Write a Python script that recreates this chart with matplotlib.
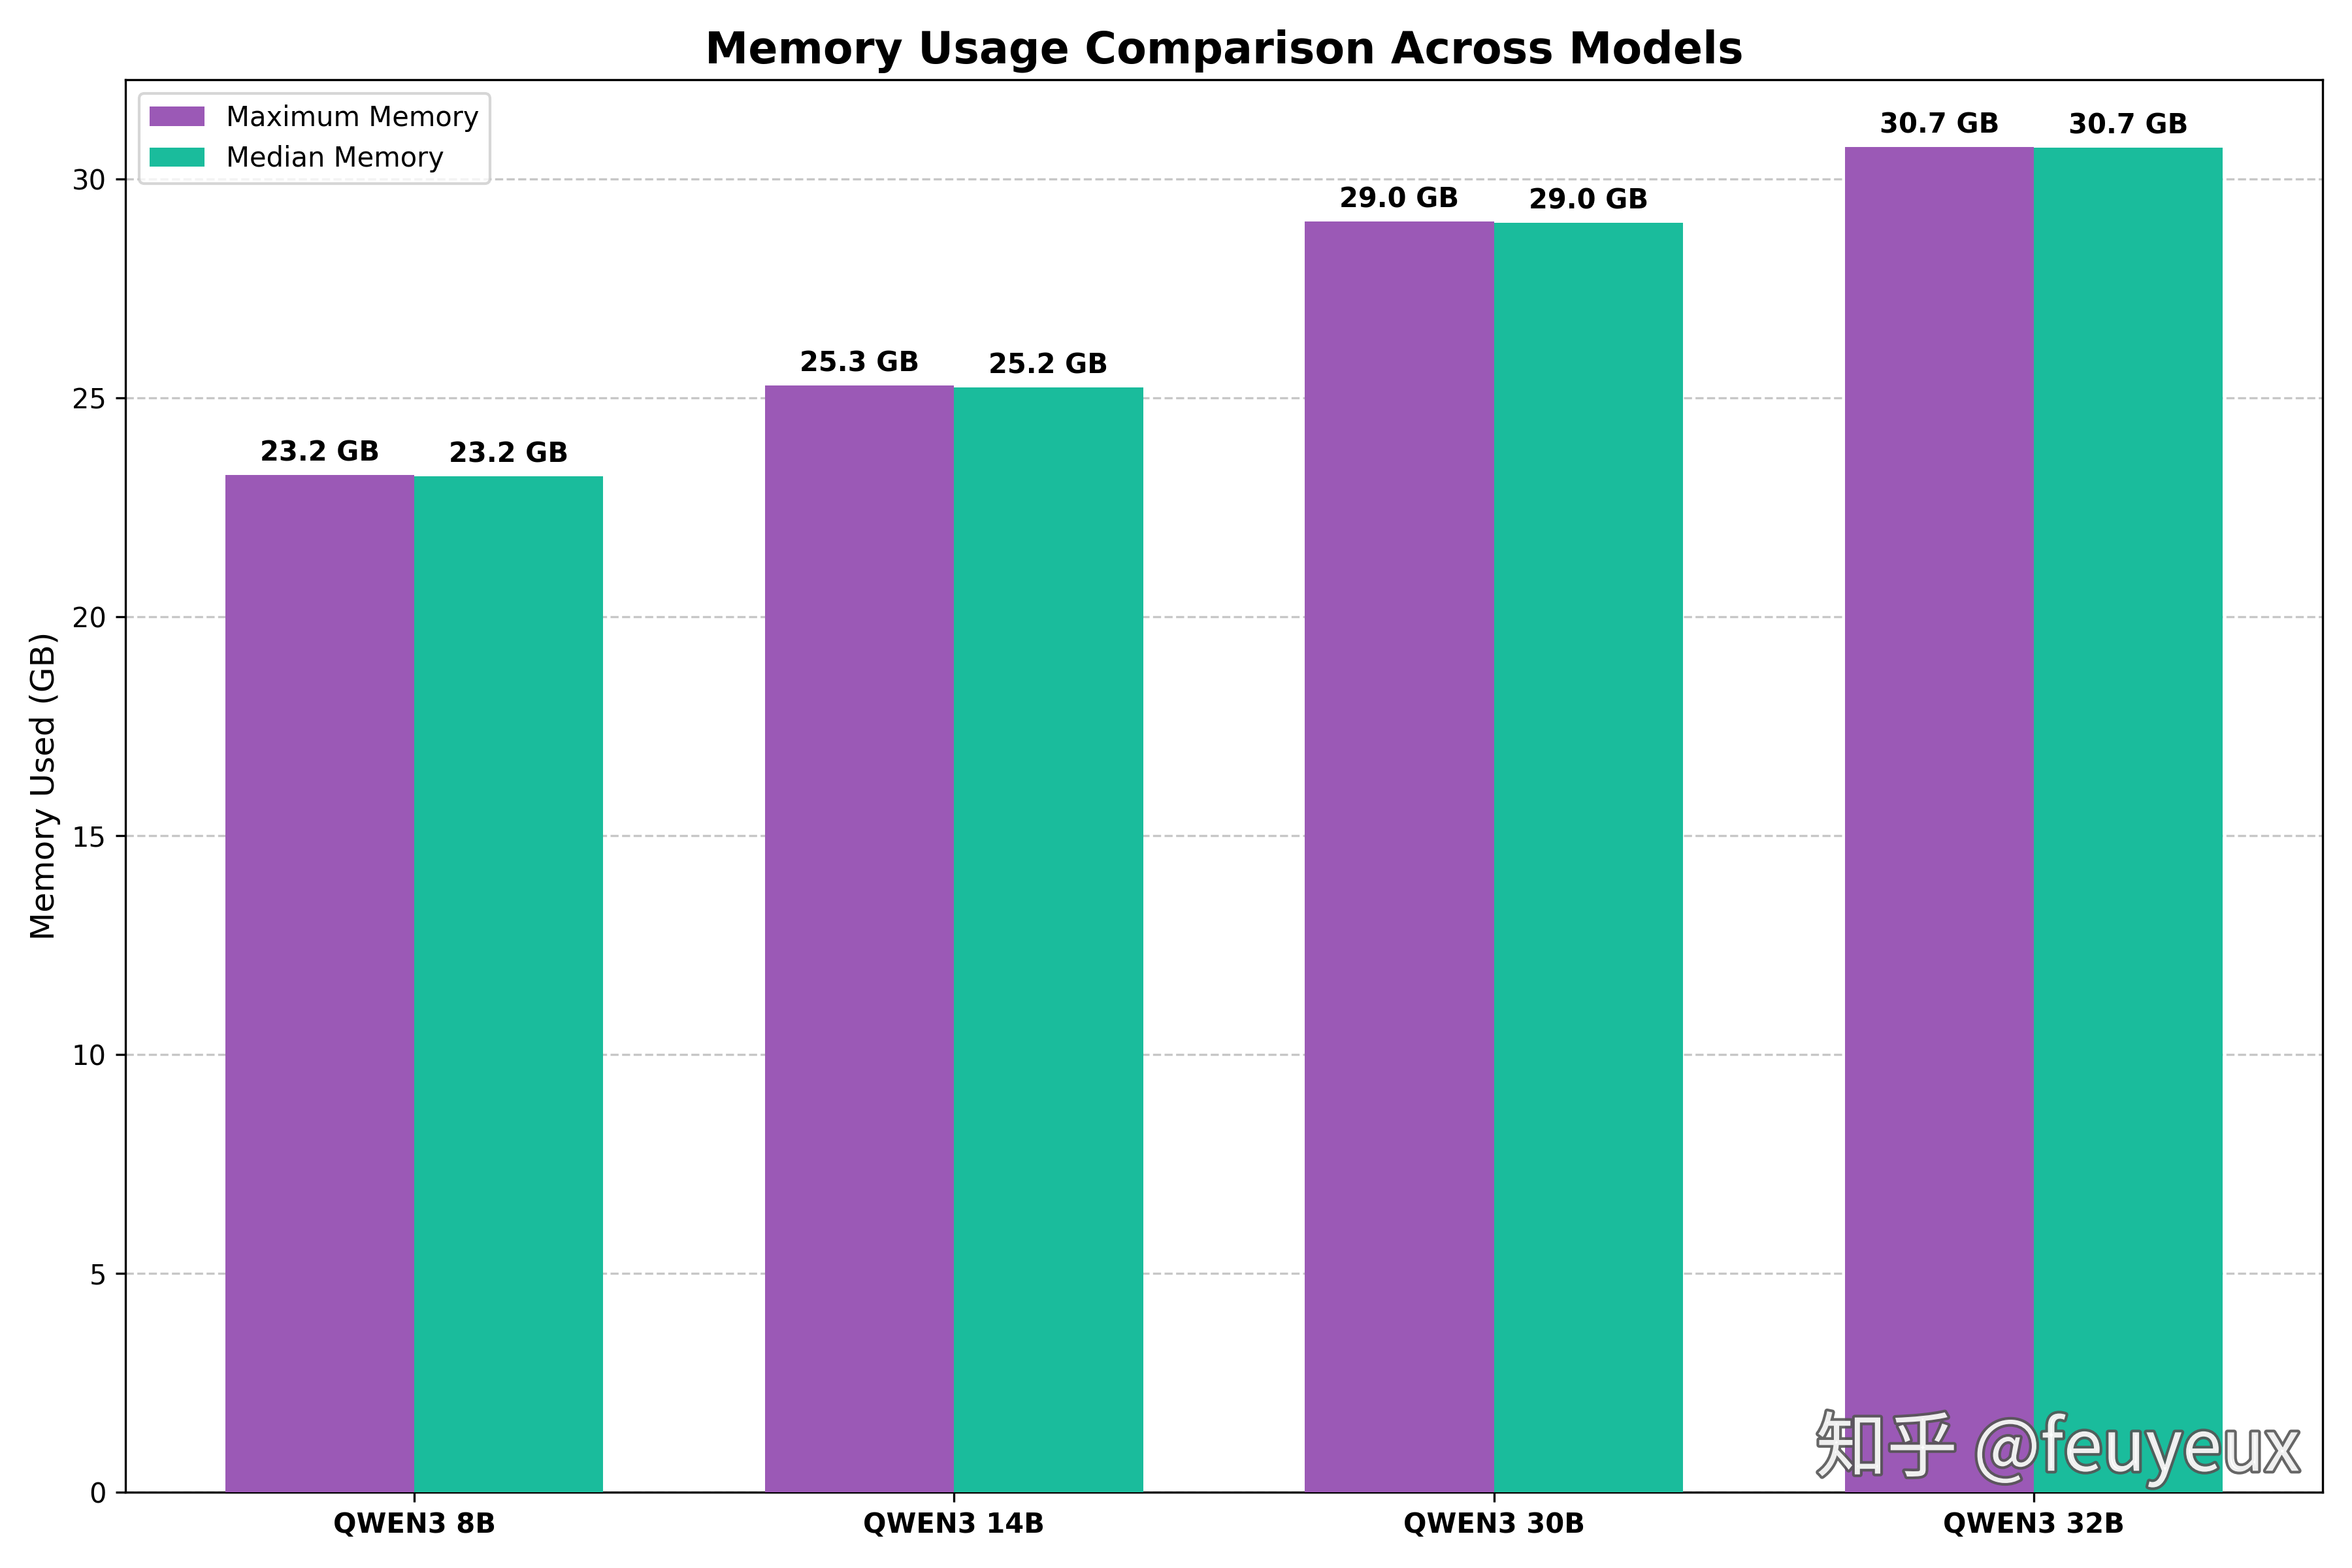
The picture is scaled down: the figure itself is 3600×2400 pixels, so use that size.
import matplotlib
matplotlib.use("Agg")
import matplotlib.pyplot as plt
import matplotlib.patheffects as pe
import numpy as np

models = ["QWEN3 8B", "QWEN3 14B", "QWEN3 30B", "QWEN3 32B"]
max_mem = [23.23, 25.28, 29.03, 30.73]
med_mem = [23.20, 25.23, 29.00, 30.72]

fig, ax = plt.subplots(figsize=(12, 8), dpi=300)
x = np.arange(len(models))
w = 0.35
b1 = ax.bar(x - w/2, max_mem, w, color="#9b59b6", label="Maximum Memory", zorder=3)
b2 = ax.bar(x + w/2, med_mem, w, color="#1abc9c", label="Median Memory", zorder=3)
for bars in (b1, b2):
    for b in bars:
        h = b.get_height()
        ax.annotate(f"{h:.1f} GB", (b.get_x() + b.get_width()/2, h),
                    xytext=(0, 3), textcoords="offset points",
                    ha="center", va="bottom", fontsize=10, fontweight="bold")
ax.set_xticks(x)
ax.set_xticklabels(models, fontweight="bold")
ax.set_ylabel("Memory Used (GB)", fontsize=12)
ax.set_title("Memory Usage Comparison Across Models", fontsize=16, fontweight="bold")
ax.grid(axis="y", linestyle="--", alpha=0.7, zorder=0)
ax.legend(loc="upper left")
fig.tight_layout()
fig.text(0.875, 0.062, "知乎 @feuyeux", fontsize=26, color="white", ha="center",
         family=["Noto Sans CJK SC", "DejaVu Sans"],
         path_effects=[pe.withStroke(linewidth=2, foreground="#555555")], alpha=0.9)
fig.savefig("out.png")
